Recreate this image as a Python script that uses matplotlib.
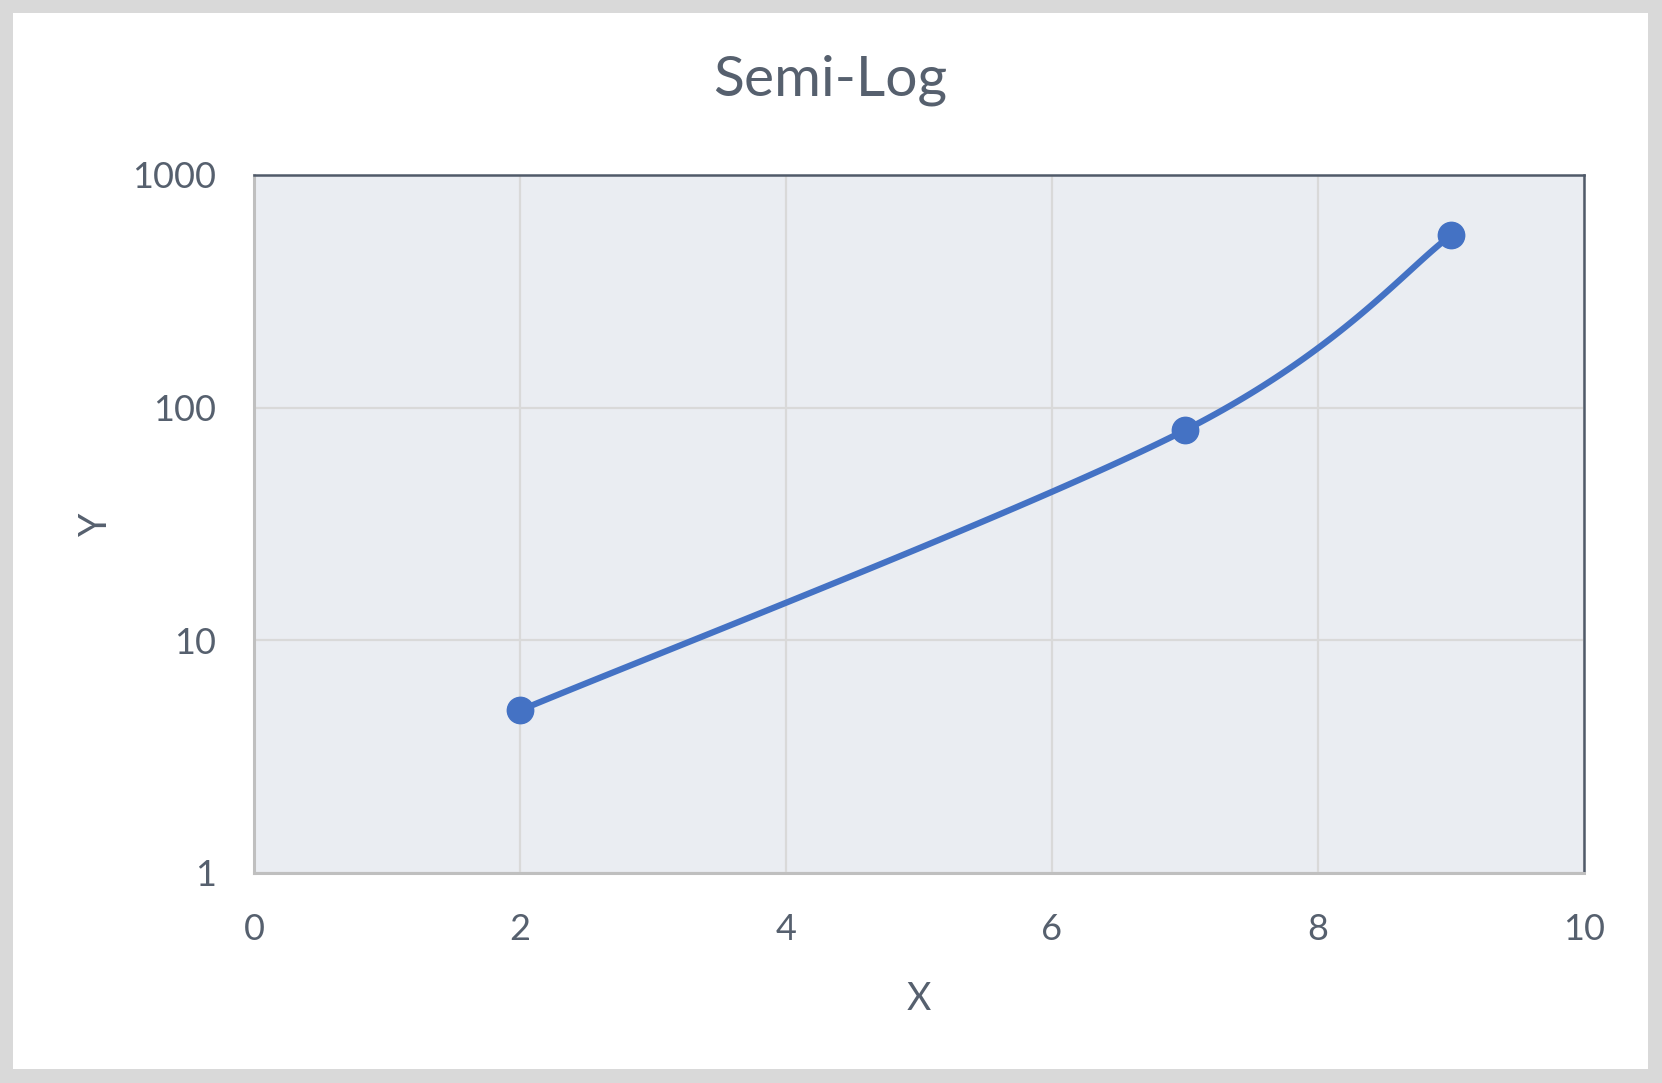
import numpy as np
import matplotlib.pyplot as plt
from matplotlib.patches import Rectangle

# data
x_vals = [2, 7, 9]
y_vals = [5, 80, 550]
x_ticks = [0, 2, 4, 6, 8, 10]
y_ticks = [1, 10, 100, 1000]

text_col = '#56606E'
line_col = '#4472C4'
plt.rcParams['font.family'] = ['Lato', 'DejaVu Sans']


def smooth(xs, ys, n=60):
    # excel-like smoothed line: bezier through points, done in log space
    px = np.array(xs, float)
    py = np.log10(np.array(ys, float))
    out_x, out_y = [], []
    m = len(px)
    for i in range(m - 1):
        a = max(i - 1, 0)
        b = min(i + 2, m - 1)
        c1x = px[i] + (px[i + 1] - px[a]) / 6
        c1y = py[i] + (py[i + 1] - py[a]) / 6
        c2x = px[i + 1] - (px[b] - px[i]) / 6
        c2y = py[i + 1] - (py[b] - py[i]) / 6
        t = np.linspace(0, 1, n)
        bx = (1-t)**3*px[i] + 3*(1-t)**2*t*c1x + 3*(1-t)*t**2*c2x + t**3*px[i+1]
        by = (1-t)**3*py[i] + 3*(1-t)**2*t*c1y + 3*(1-t)*t**2*c2y + t**3*py[i+1]
        out_x.extend(bx)
        out_y.extend(by)
    return np.array(out_x), 10 ** np.array(out_y)


fig = plt.figure(figsize=(16.62, 10.83), dpi=100)
fig.patch.set_facecolor('#D9D9D9')
fig.patches.append(Rectangle((13/1662, 14/1083), 1635/1662, 1056/1083,
                             transform=fig.transFigure, facecolor='white',
                             edgecolor='none', zorder=-10))

ax = fig.add_axes([254/1662, 1 - 873/1083, 1330/1662, 698/1083])
ax.set_facecolor('#EAEDF2')
ax.set_yscale('log')
ax.set_xlim(0, 10)
ax.set_ylim(1, 1000)

ax.set_xticks(x_ticks)
ax.set_xticklabels([str(v) for v in x_ticks])
ax.set_yticks(y_ticks)
ax.set_yticklabels([str(v) for v in y_ticks])
ax.minorticks_off()
ax.tick_params(length=0, labelsize=26, colors=text_col, pad=0)
ax.tick_params(axis='x', pad=29)
ax.tick_params(axis='y', pad=27)
ax.grid(True, color='#D9D9D9', linewidth=1.6)
ax.set_axisbelow(True)

for s in ['top', 'right']:
    ax.spines[s].set_color('#505A69')
    ax.spines[s].set_linewidth(1.8)
for s in ['left', 'bottom']:
    ax.spines[s].set_color('#BFBFBF')
    ax.spines[s].set_linewidth(2.2)

sx, sy = smooth(x_vals, y_vals)
ax.plot(sx, sy, color=line_col, linewidth=4.5, solid_capstyle='round', zorder=3)
ax.plot(x_vals, y_vals, 'o', color=line_col, markersize=19, zorder=4)

fig.text(830/1662, 1 - 80/1083, 'Semi-Log', ha='center', va='center',
         fontsize=41, color=text_col)
ax.set_xlabel('X', fontsize=27, color=text_col, labelpad=25)
ax.set_ylabel('Y', fontsize=27, color=text_col, labelpad=13)

plt.savefig('out.png', dpi=100, facecolor=fig.get_facecolor())
